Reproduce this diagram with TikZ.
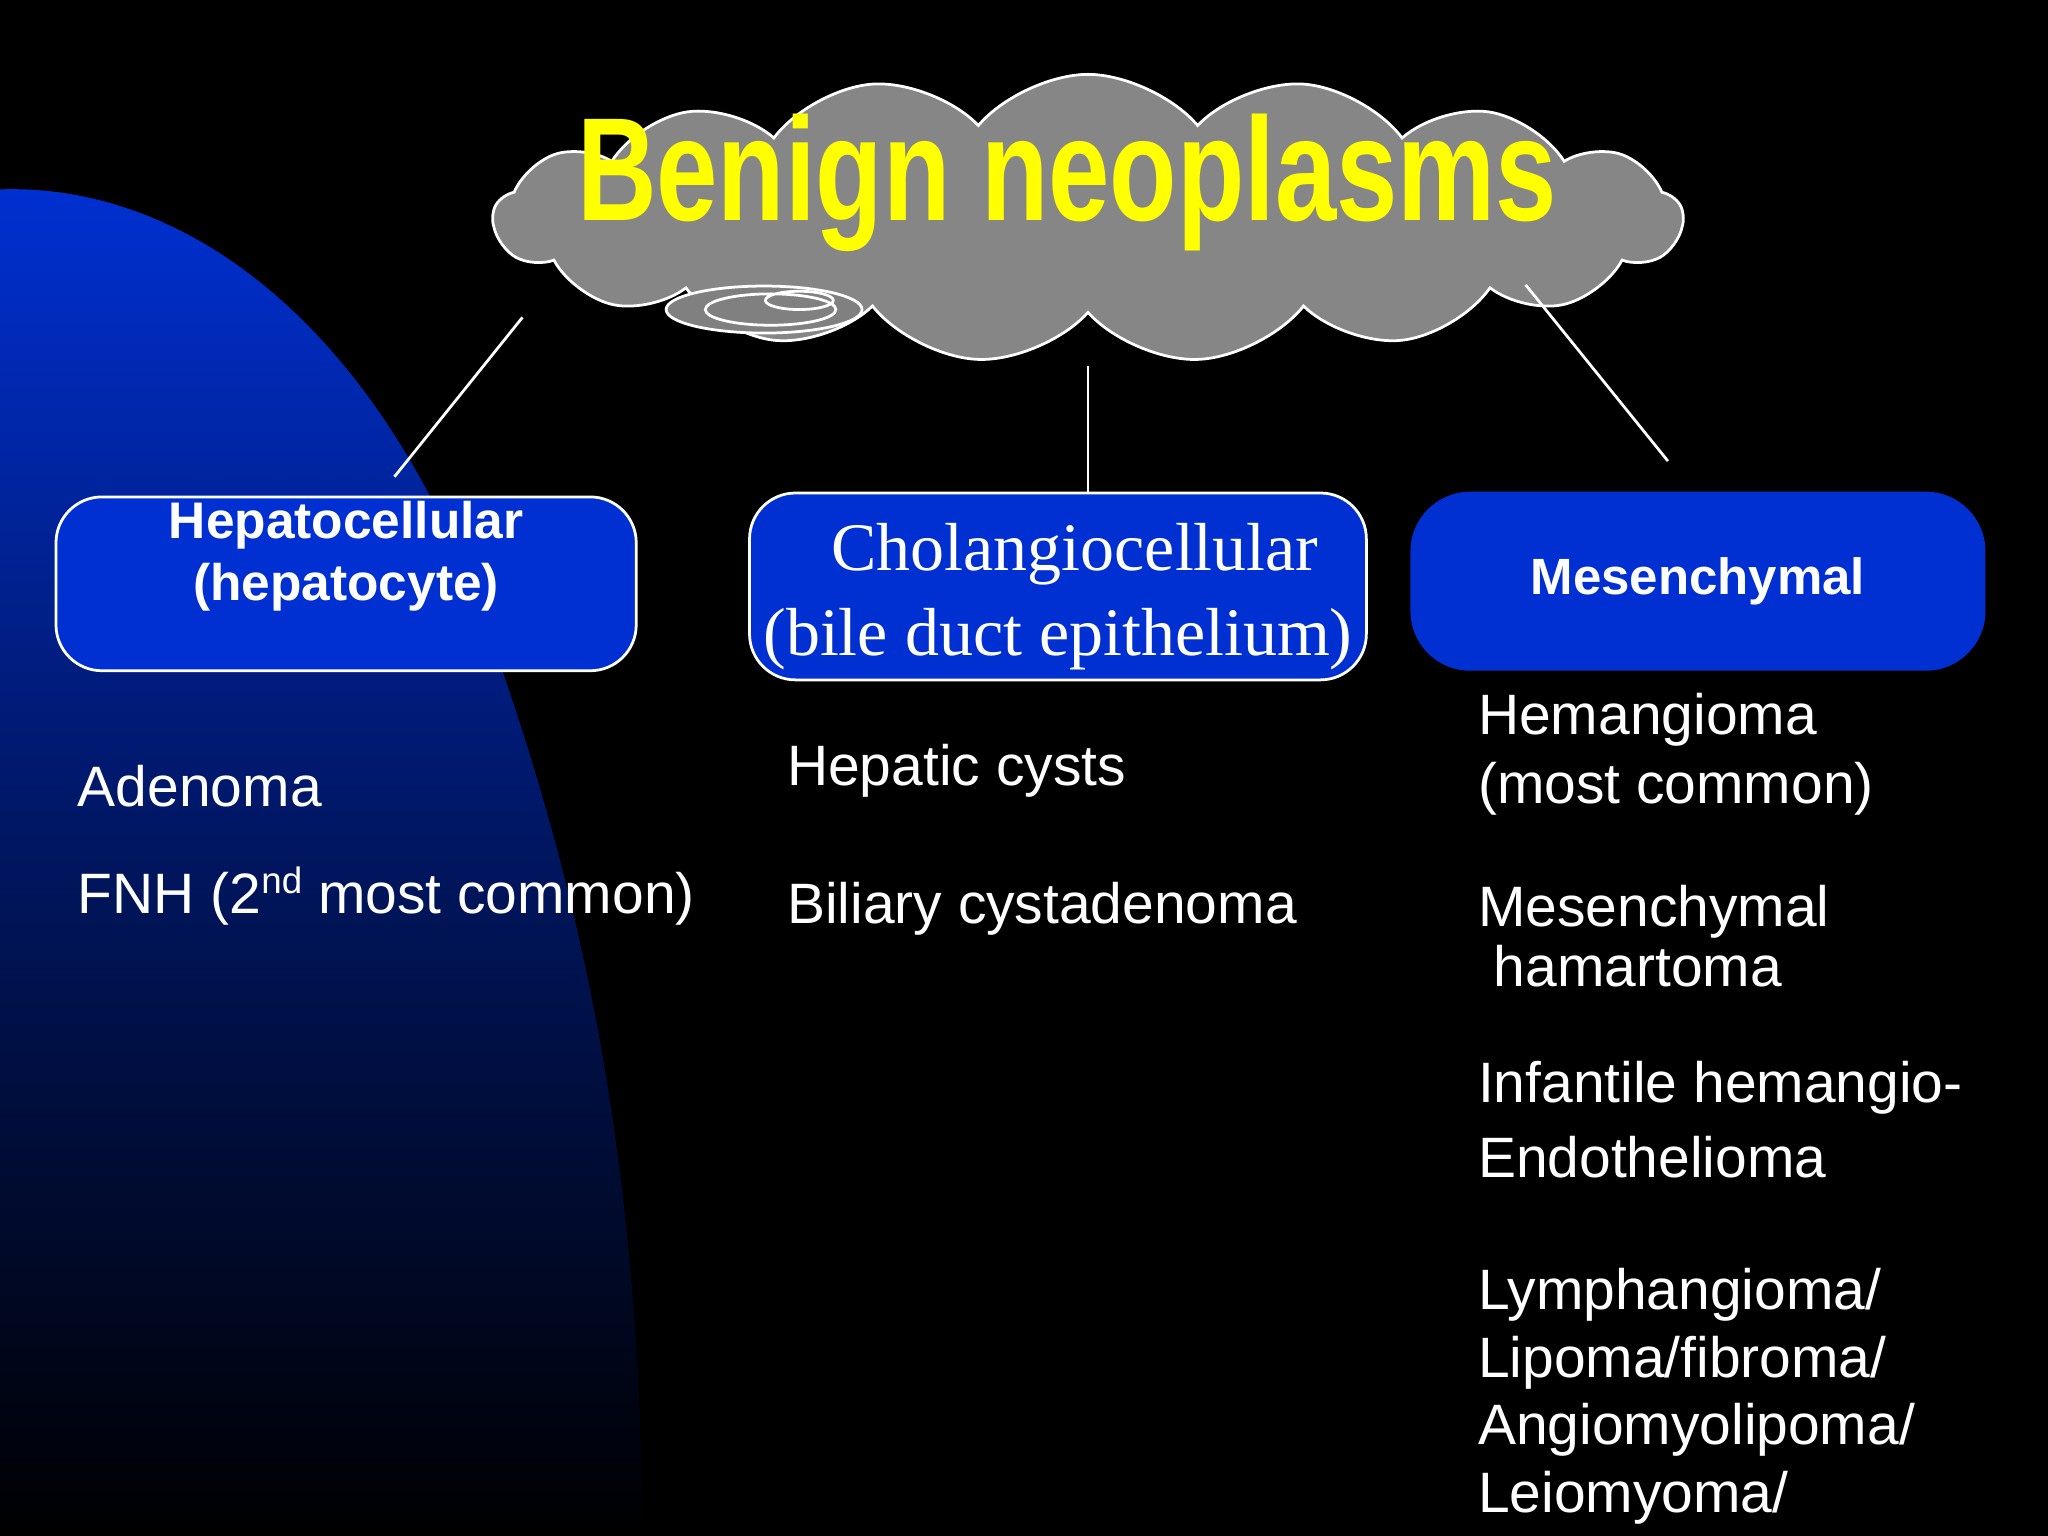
\documentclass[tikz,border=0pt]{standalone}
\usepackage{fontspec}
\setmainfont{Liberation Sans}
\newfontfamily\serifx{Liberation Serif}
\usetikzlibrary{shapes.symbols}
\definecolor{bl}{RGB}{0,48,210}
\definecolor{yl}{RGB}{255,255,0}
\begin{document}
\begin{tikzpicture}[x=0.01cm,y=-0.01cm,
  txt/.style={anchor=west,text=white,font=\fontsize{12.4}{15}\selectfont,inner sep=0},
  hd/.style={text=white,align=center},
  ln/.style={white,line width=0.6pt}]
\fill[black] (0,0) rectangle (1568,1176);
\shade[top color=bl, bottom color=black, middle color=bl!45!black]
 (0,145) .. controls (150,140) and (300,260) .. (380,500)
 .. controls (450,700) and (490,900) .. (492,1176) -- (0,1176) -- cycle;
% cloud
\node[cloud, cloud puffs=17, cloud puff arc=100, aspect=4.3, fill=gray!95!white, draw=white, line width=0.6pt,
  minimum width=9.1cm, minimum height=2.2cm, inner sep=0] (cl) at (833,167) {};
\draw[white,line width=0.6pt,fill=gray] (585,237) ellipse (75 and 18);
\draw[white,line width=0.6pt] (590,237) ellipse (50 and 12) (612,230) ellipse (26 and 7);
\node[inner sep=0,text=yl] (title) at (817,140) {\scalebox{0.75}[1]{\fontsize{32}{40}\selectfont\bfseries Benign neoplasms}};
% boxes
\node[draw=white, fill=bl, rounded corners=10, minimum width=4.44cm, minimum height=1.33cm, line width=0.6pt] (b1) at (265,447) {};
\node[hd, font=\fontsize{11.2}{13.5}\selectfont\bfseries, inner sep=0] (b1t) at (265,426) {Hepatocellular\\(hepatocyte)};
\node[draw=white, fill=bl, rounded corners=10, minimum width=4.72cm, minimum height=1.43cm, line width=0.6pt] (b2) at (810,449) {};
\node[hd, font=\serifx\fontsize{14.8}{18.5}\selectfont, inner sep=0] (b2t) at (810,457) {\ \ Cholangiocellular\\(bile duct epithelium)};
\node[fill=bl, rounded corners=13, minimum width=4.4cm, minimum height=1.37cm,
  hd, font=\fontsize{11.1}{13}\selectfont\bfseries] (b3) at (1300,445) {Mesenchymal};
\coordinate (c1) at (400,243); \coordinate (d1) at (302,365);
\coordinate (c2) at (833,280); \coordinate (d2) at (833,378);
\coordinate (c3) at (1168,218); \coordinate (d3) at (1277,353);
\draw[ln] (c1) -- (d1); \draw[ln] (c2) -- (d2); \draw[ln] (c3) -- (d3);
% texts
\node[txt] (t1) at (59,602) {Adenoma};
\node[txt] (t2) at (59,686) {FNH (2{\fontsize{8}{8}\selectfont\raisebox{0.55em}{nd}}\ most common)};
\node[txt] (t3) at (602,590) {Hepatic cysts};
\node[txt] (t4) at (602,696) {Biliary cystadenoma};
\node[txt] (t5) at (1131,551) {Hemangioma};
\node[txt] (t6) at (1131,604) {(most common)};
\node[txt] (t7) at (1131,698) {Mesenchymal};
\node[txt] (t8) at (1143,740) {hamartoma};
\node[txt] (t9) at (1131,833) {Infantile hemangio-};
\node[txt] (t10) at (1131,886) {Endothelioma};
\node[txt] (t11) at (1131,991) {Lymphangioma/};
\node[txt] (t12) at (1131,1043) {Lipoma/fibroma/};
\node[txt] (t13) at (1131,1095) {Angiomyolipoma/};
\node[txt] (t14) at (1131,1147) {Leiomyoma/};
\end{tikzpicture}
\end{document}
